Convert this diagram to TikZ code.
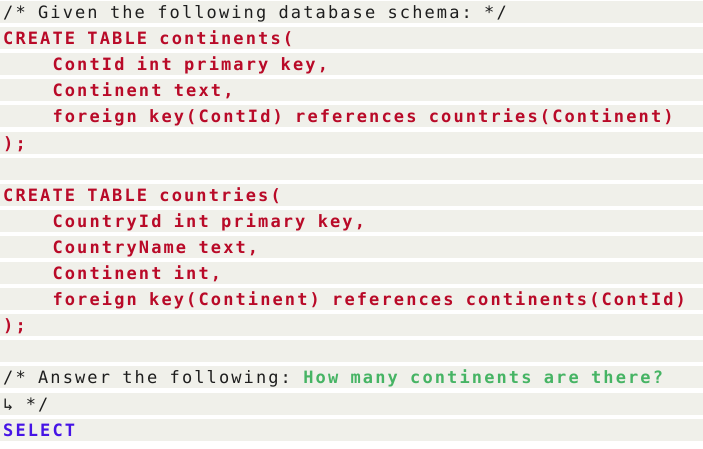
\documentclass[tikz,border=0pt]{standalone}
\usepackage{fontspec}
\setmonofont[LetterSpace=12.4]{DejaVu Sans Mono}
\definecolor{bandc}{RGB}{240,240,234}
\definecolor{kw}{RGB}{185,10,40}
\definecolor{qg}{RGB}{70,180,100}
\definecolor{sel}{RGB}{70,20,230}
\definecolor{cm}{RGB}{30,30,30}
\tikzset{codeline/.style={anchor=base west,inner sep=0pt,font=\fontsize{17}{17}\ttfamily,text=cm},
 band/.style={fill=bandc,draw=none}}
\newcommand{\K}[1]{\textcolor{kw}{\bfseries #1}}
\begin{document}
\begin{tikzpicture}[x=1pt,y=-1pt]
\useasboundingbox (0,0) rectangle (703,448);
\foreach \i in {0,...,16}{\fill[bandc] (0,{1+26.1*\i}) rectangle (703,{23+26.1*\i});}
\node[codeline] (l1) at (3,18.5) {/* Given the following database schema: */};
\node[codeline] (l2) at (3,44.6) {\K{CREATE TABLE continents(}};
\node[codeline] (l3) at (3,70.7) {\K{\ \ \ \ ContId int primary key,}};
\node[codeline] (l4) at (3,96.8) {\K{\ \ \ \ Continent text,}};
\node[codeline] (l5) at (3,122.9) {\K{\ \ \ \ foreign key(ContId) references countries(Continent)}};
\node[codeline] (l6) at (3,149) {\K{);}};
\node[codeline] (l8) at (3,201.2) {\K{CREATE TABLE countries(}};
\node[codeline] (l9) at (3,227.3) {\K{\ \ \ \ CountryId int primary key,}};
\node[codeline] (l10) at (3,253.4) {\K{\ \ \ \ CountryName text,}};
\node[codeline] (l11) at (3,279.5) {\K{\ \ \ \ Continent int,}};
\node[codeline] (l12) at (3,305.6) {\K{\ \ \ \ foreign key(Continent) references continents(ContId)}};
\node[codeline] (l13) at (3,331.7) {\K{);}};
\node[codeline] (l15) at (3,383.9) {/* Answer the following: \textcolor{qg}{\bfseries How many continents are there?}};
\node[codeline] (l16) at (3,410) {↳ */};
\node[codeline] (l17) at (3,436.1) {\textcolor{sel}{\bfseries SELECT}};
\end{tikzpicture}
\end{document}
